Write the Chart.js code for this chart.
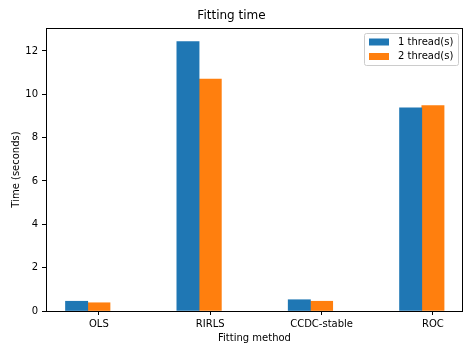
<!DOCTYPE html>
<html><head><meta charset="utf-8">
<script src="https://cdn.jsdelivr.net/npm/chart.js@4/dist/chart.umd.min.js"></script>
<style>html,body{margin:0;padding:0;background:#fff}canvas{display:block}</style>
</head><body>
<canvas id="c" width="474" height="355"></canvas>
<script>
const categories = ['OLS', 'RIRLS', 'CCDC-stable', 'ROC'];
const seriesLabels = ['1 thread(s)', '2 thread(s)'];
const oneThread = [0.45, 12.43, 0.52, 9.38];
const twoThreads = [0.38, 10.70, 0.45, 9.48];
const yTicks = [0, 2, 4, 6, 8, 10, 12];
const chartTitle = 'Fitting time';
const xTitle = 'Fitting method';
const yTitle = 'Time (seconds)';
const colors = ['#1f77b4', '#ff7f0e'];
const offsets = [-0.2, 0];

const FONT = '"DejaVu Sans", sans-serif';

const frame = {
  id: 'frame',
  afterDatasetsDraw(chart) {
    const {ctx, chartArea: a} = chart;
    ctx.save();
    ctx.strokeStyle = '#000';
    ctx.lineWidth = 1;
    ctx.strokeRect(Math.round(a.left) + 0.5, Math.round(a.top) + 0.5,
      Math.round(a.right - a.left) - 1, Math.round(a.bottom - a.top));
    ctx.restore();
  }
};

const mplLegend = {
  id: 'mplLegend',
  afterDraw(chart) {
    const {ctx, chartArea: a} = chart;
    ctx.save();
    ctx.font = '10px ' + FONT;
    const ds = chart.data.datasets;
    let tw = 0;
    ds.forEach(d => { tw = Math.max(tw, ctx.measureText(d.label).width); });
    const w = 5 + 20 + 9 + tw + 5;
    const h = 32;
    const x = Math.round(a.right - 5 - w) + 0.5;
    const y = Math.round(a.top + 5) + 0.5;
    ctx.beginPath();
    ctx.roundRect(x, y, Math.round(w), h, 2);
    ctx.fillStyle = 'rgba(255,255,255,0.8)';
    ctx.fill();
    ctx.strokeStyle = '#cccccc';
    ctx.lineWidth = 1;
    ctx.stroke();
    ds.forEach((d, i) => {
      const cy = y + 8.5 + i * 14.5;
      ctx.fillStyle = d.backgroundColor;
      ctx.fillRect(x + 4.5, cy - 3.5, 20, 7);
      ctx.fillStyle = '#000';
      ctx.textBaseline = 'middle';
      ctx.textAlign = 'left';
      ctx.fillText(d.label, x + 33.5, cy);
    });
    ctx.restore();
  }
};

const datasets = [oneThread, twoThreads].map((vals, k) => ({
  label: seriesLabels[k],
  data: vals.map((v, i) => ({x: i + offsets[k], y: v})),
  backgroundColor: colors[k],
  borderWidth: 0,
  grouped: false,
  barPercentage: 1,
  categoryPercentage: 1
}));

const tickFont = {family: FONT, size: 10};

new Chart(document.getElementById('c'), {
  type: 'bar',
  data: {datasets},
  plugins: [frame, mplLegend],
  options: {
    responsive: false,
    animation: false,
    devicePixelRatio: 1,
    layout: {padding: {left: 0, right: 11, top: 0, bottom: 0}},
    plugins: {
      legend: {display: false},
      tooltip: {enabled: false},
      title: {
        display: true, text: chartTitle, color: '#000',
        font: {family: FONT, size: 12, weight: 'normal'},
        padding: {top: 9, bottom: 4.6}
      }
    },
    scales: {
      x: {
        type: 'linear', min: -0.475, max: 3.27, offset: false,
        afterBuildTicks: s => { s.ticks = categories.map((_, i) => ({value: i})); },
        afterFit: s => { s.height = 44; },
        ticks: {
          callback: v => categories[v] ?? '',
          font: tickFont, color: '#000', padding: 3,
          autoSkip: false, maxRotation: 0
        },
        grid: {display: true, offset: false, drawOnChartArea: false, drawTicks: true, tickLength: 4, tickColor: '#000'},
        border: {display: false},
        title: {display: true, text: xTitle, color: '#000', font: tickFont, padding: {top: 4, bottom: 11}}
      },
      y: {
        type: 'linear', min: 0, max: 13.06,
        afterBuildTicks: s => { s.ticks = yTicks.map(v => ({value: v})); },
        afterFit: s => { s.width = 46; },
        ticks: {font: tickFont, color: '#000', padding: 4},
        grid: {display: true, drawOnChartArea: false, drawTicks: true, tickLength: 4, tickColor: '#000'},
        border: {display: false},
        title: {display: true, text: yTitle, color: '#000', font: tickFont, padding: {top: 10, bottom: 0}}
      }
    }
  }
});
</script>
</body></html>
